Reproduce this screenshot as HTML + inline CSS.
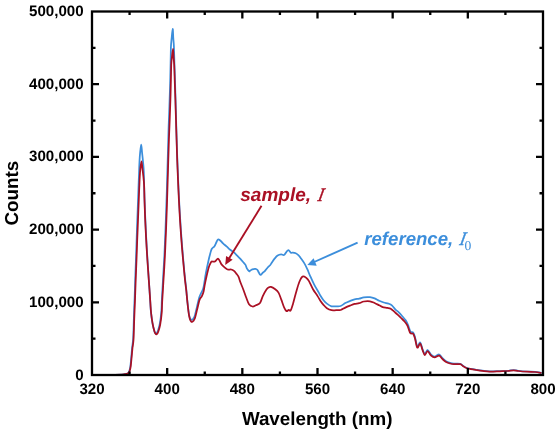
<!DOCTYPE html>
<html><head><meta charset="utf-8"><style>
html,body{margin:0;padding:0;background:#fff;}
svg{display:block;will-change:transform;}
text{font-family:"Liberation Sans",sans-serif;font-weight:bold;text-rendering:geometricPrecision;}
</style></head><body>
<svg width="560" height="434" viewBox="0 0 560 434">
<path d="M101.5 374.9 C102.92 374.88 106.58 374.87 110.0 374.8 C113.42 374.73 119.42 374.62 122.0 374.5 C124.58 374.38 124.57 374.27 125.5 374.1 C126.43 373.93 127.08 373.77 127.6 373.5 C128.12 373.23 128.28 372.98 128.6 372.5 C128.92 371.99 129.20 371.60 129.5 370.5 C129.80 369.47 130.10 368.36 130.4 366.1 C130.70 363.84 131.02 360.01 131.3 357.0 C131.58 353.91 131.79 350.91 132.1 347.8 C132.41 344.71 132.86 343.49 133.2 338.4 C133.46 333.24 133.66 324.21 133.9 317.1 C134.16 309.93 134.41 302.69 134.7 295.5 C134.91 288.36 135.17 281.25 135.4 274.1 C135.67 266.95 135.93 259.78 136.2 252.6 C136.43 245.42 136.69 238.23 136.9 231.0 C137.19 223.81 137.45 216.58 137.7 209.3 C137.97 202.09 138.25 193.93 138.5 187.6 C138.70 181.21 138.89 175.56 139.1 171.2 C139.23 166.80 139.33 164.32 139.5 161.3 C139.67 158.21 139.82 155.64 140.1 152.9 C140.38 150.06 140.87 144.53 141.2 144.5 C141.53 144.52 141.80 149.99 142.1 152.8 C142.40 155.65 142.72 158.36 143.0 161.5 C143.28 164.64 143.60 167.26 143.8 171.7 C144.00 176.09 144.01 181.62 144.2 188.0 C144.39 194.31 144.65 202.47 144.9 209.7 C145.21 216.98 145.53 224.25 145.9 231.5 C146.25 238.74 146.65 246.00 147.1 253.2 C147.53 260.45 148.03 267.41 148.5 274.9 C149.00 282.32 149.62 292.05 150.0 297.9 C150.38 303.85 150.39 306.13 150.8 310.3 C151.21 314.43 151.88 319.49 152.4 322.9 C153.02 326.21 153.76 328.76 154.2 330.4 C154.64 332.07 154.78 332.21 155.1 332.8 C155.42 333.33 155.78 333.77 156.1 333.8 C156.42 333.78 156.68 333.37 157.0 332.8 C157.32 332.28 157.51 332.14 158.0 330.5 C158.49 328.90 159.38 326.38 159.9 323.1 C160.52 319.82 161.07 314.87 161.4 310.8 C161.72 306.77 161.60 304.57 161.9 298.8 C162.20 292.99 162.81 283.39 163.2 276.1 C163.63 268.80 164.04 262.03 164.4 255.0 C164.74 247.95 165.05 240.90 165.3 233.9 C165.63 226.80 165.89 219.74 166.1 212.7 C166.37 205.62 166.59 198.56 166.8 191.5 C167.01 184.42 167.21 177.35 167.4 170.3 C167.61 163.19 167.80 156.10 168.0 149.0 C168.22 141.90 168.42 134.79 168.6 127.7 C168.88 120.53 169.13 113.38 169.4 106.2 C169.61 99.07 169.89 91.88 170.1 84.7 C170.31 77.57 170.46 69.56 170.6 63.3 C170.74 57.06 170.78 51.34 170.9 47.2 C171.12 43.12 171.31 41.71 171.6 38.7 C171.89 35.60 172.42 28.99 172.7 28.9 C172.98 28.81 173.10 35.17 173.3 38.1 C173.50 41.02 173.71 42.37 173.9 46.4 C174.09 50.49 174.24 56.24 174.4 62.5 C174.62 68.70 174.85 76.71 175.1 83.8 C175.27 90.93 175.46 98.03 175.7 105.1 C175.86 112.24 176.05 119.33 176.3 126.4 C176.47 133.53 176.69 140.62 176.9 147.7 C177.17 154.81 177.42 161.91 177.7 169.0 C177.98 176.09 178.28 183.18 178.6 190.3 C178.96 197.37 179.32 204.46 179.7 211.5 C180.14 218.63 180.59 225.72 181.1 232.8 C181.59 239.89 182.14 246.97 182.8 254.0 C183.36 261.12 184.19 269.68 184.7 275.3 C185.29 280.84 185.65 283.45 186.1 287.5 C186.47 291.60 186.78 295.64 187.2 299.7 C187.62 303.80 188.18 309.08 188.6 312.0 C189.02 314.92 189.35 316.02 189.7 317.2 C190.05 318.42 190.35 318.74 190.7 319.2 C191.05 319.64 191.42 319.94 191.8 319.9 C192.18 319.89 192.52 319.70 193.0 319.1 C193.48 318.40 194.03 318.10 194.7 316.0 C195.37 313.96 196.23 309.77 197.0 306.7 C197.77 303.53 198.48 299.84 199.3 297.3 C200.12 294.79 201.18 293.24 201.9 291.5 C202.62 289.76 202.93 289.98 203.6 286.9 C204.27 283.82 205.03 277.62 205.9 273.0 C206.77 268.38 208.08 262.42 208.8 259.2 C209.52 255.98 209.72 255.40 210.2 253.7 C210.68 252.00 210.98 250.25 211.7 249.0 C212.42 247.75 213.73 247.28 214.5 246.2 C215.27 245.12 215.72 243.62 216.3 242.5 C216.88 241.38 217.35 239.83 218.0 239.5 C218.65 239.17 219.37 239.85 220.2 240.5 C221.03 241.15 221.95 242.43 223.0 243.4 C224.05 244.37 225.30 245.25 226.5 246.3 C227.70 247.35 229.00 248.72 230.2 249.7 C231.40 250.68 232.53 251.22 233.7 252.2 C234.87 253.18 236.08 254.48 237.2 255.6 C238.32 256.72 239.35 257.75 240.4 258.9 C241.45 260.05 242.65 261.50 243.5 262.5 C244.35 263.50 244.92 263.88 245.5 264.9 C246.08 265.92 246.38 267.55 247.0 268.6 C247.62 269.65 248.70 270.83 249.2 271.2 C249.70 271.57 249.48 271.10 250.0 270.8 C250.52 270.50 251.43 269.73 252.3 269.4 C253.17 269.07 254.37 268.73 255.2 268.8 C256.03 268.87 256.45 268.80 257.3 269.8 C258.15 270.80 259.40 274.30 260.3 274.8 C261.20 275.30 261.95 273.40 262.7 272.8 C263.45 272.20 263.97 272.08 264.8 271.2 C265.63 270.32 266.78 268.53 267.7 267.5 C268.62 266.47 269.60 265.83 270.3 265.0 C271.00 264.17 271.15 263.60 271.9 262.5 C272.65 261.40 273.85 259.55 274.8 258.4 C275.75 257.25 276.55 256.27 277.6 255.6 C278.65 254.93 280.03 254.50 281.1 254.4 C282.17 254.30 283.13 255.38 284.0 255.0 C284.87 254.62 285.57 252.92 286.3 252.1 C287.03 251.28 287.63 250.00 288.4 250.1 C289.17 250.20 290.20 252.28 290.9 252.7 C291.60 253.12 291.80 252.50 292.6 252.6 C293.40 252.70 294.70 252.85 295.7 253.3 C296.70 253.75 297.80 254.55 298.6 255.3 C299.40 256.05 299.53 256.45 300.5 257.8 C301.47 259.15 303.27 261.50 304.4 263.4 C305.53 265.30 306.33 267.08 307.3 269.2 C308.27 271.32 309.05 273.53 310.2 276.1 C311.35 278.67 312.77 281.85 314.2 284.6 C315.63 287.35 317.83 290.87 318.8 292.6 C319.77 294.33 319.22 293.73 320.0 295.0 C320.78 296.27 322.35 298.77 323.5 300.2 C324.65 301.63 325.57 302.58 326.9 303.6 C328.23 304.62 329.97 305.85 331.5 306.3 C333.03 306.75 334.57 306.35 336.1 306.3 C337.63 306.25 339.17 306.53 340.7 306.0 C342.23 305.47 343.75 303.93 345.3 303.1 C346.85 302.27 348.45 301.63 350.0 301.0 C351.55 300.37 353.07 299.68 354.6 299.3 C356.13 298.92 357.67 299.03 359.2 298.7 C360.73 298.37 362.00 297.55 363.8 297.3 C365.60 297.05 368.20 297.02 370.0 297.2 C371.80 297.38 373.07 297.82 374.6 298.4 C376.13 298.98 377.67 300.02 379.2 300.7 C380.73 301.38 382.27 302.02 383.8 302.5 C385.33 302.98 387.05 303.13 388.4 303.6 C389.75 304.07 390.75 304.33 391.9 305.3 C393.05 306.27 394.15 308.23 395.3 309.4 C396.45 310.57 397.63 311.15 398.8 312.3 C399.97 313.45 401.15 314.97 402.3 316.3 C403.45 317.63 404.75 318.87 405.7 320.3 C406.65 321.73 407.22 323.03 408.0 324.9 C408.78 326.77 409.53 330.23 410.4 331.5 C411.27 332.77 412.43 331.58 413.2 332.5 C413.97 333.42 414.32 334.67 415.0 337.0 C415.68 339.33 416.43 345.58 417.3 346.5 C418.17 347.42 419.33 342.08 420.2 342.5 C421.07 342.92 421.73 347.08 422.5 349.0 C423.27 350.92 423.95 353.83 424.8 354.0 C425.65 354.17 426.55 349.88 427.6 350.0 C428.65 350.12 429.93 353.62 431.1 354.7 C432.27 355.78 433.25 356.53 434.6 356.5 C435.95 356.47 437.87 354.22 439.2 354.5 C440.53 354.78 441.45 357.08 442.6 358.2 C443.75 359.32 444.87 360.43 446.1 361.2 C447.33 361.97 448.70 362.40 450.0 362.8 C451.30 363.20 452.20 363.46 453.9 363.6 C455.60 363.80 458.70 363.47 460.2 363.8 C461.70 364.17 461.87 365.07 462.9 365.7 C463.93 366.39 465.07 367.27 466.4 367.8 C467.73 368.33 469.25 368.57 470.9 368.9 C472.55 369.23 474.37 369.50 476.3 369.8 C478.23 370.10 480.28 370.43 482.5 370.7 C484.72 370.97 486.72 371.33 489.6 371.4 C492.48 371.47 496.78 371.20 499.8 371.1 C502.82 371.00 505.40 370.97 507.7 370.8 C510.00 370.63 511.80 370.10 513.6 370.1 C515.40 370.10 516.22 370.57 518.5 370.8 C520.78 371.03 524.52 371.33 527.3 371.5 C530.08 371.67 532.82 371.58 535.2 371.8 C537.58 372.02 540.53 372.63 541.6 372.8" stroke="#3C8EDB" stroke-width="1.75" fill="none" stroke-linejoin="round"/>
<path d="M101.5 374.9 C102.92 374.88 106.58 374.87 110.0 374.8 C113.42 374.73 119.42 374.62 122.0 374.5 C124.58 374.38 124.57 374.27 125.5 374.1 C126.43 373.93 127.03 373.77 127.6 373.5 C128.17 373.23 128.53 372.98 128.9 372.5 C129.27 372.02 129.50 371.63 129.8 370.6 C130.10 369.57 130.40 368.48 130.7 366.3 C131.00 364.12 131.32 360.42 131.6 357.5 C131.88 354.58 132.09 351.72 132.4 348.8 C132.71 345.88 133.16 344.80 133.5 340.0 C133.76 335.20 133.96 326.67 134.2 320.0 C134.46 313.33 134.71 306.67 135.0 300.0 C135.21 293.33 135.47 286.67 135.7 280.0 C135.97 273.33 136.23 266.67 136.5 260.0 C136.73 253.33 136.99 246.67 137.2 240.0 C137.50 233.33 137.75 226.67 138.0 220.0 C138.27 213.33 138.56 205.83 138.8 200.0 C139.00 194.17 139.19 189.00 139.4 185.0 C139.53 181.00 139.63 178.75 139.8 176.0 C139.97 173.25 140.12 170.93 140.4 168.5 C140.68 166.07 141.17 161.40 141.5 161.4 C141.83 161.40 142.10 166.07 142.4 168.5 C142.70 170.93 143.02 173.25 143.3 176.0 C143.58 178.75 143.90 181.00 144.1 185.0 C144.30 189.00 144.31 194.17 144.5 200.0 C144.69 205.83 144.95 213.33 145.2 220.0 C145.51 226.67 145.83 233.33 146.2 240.0 C146.55 246.67 146.95 253.33 147.4 260.0 C147.83 266.67 148.33 273.08 148.8 280.0 C149.31 286.92 149.92 296.00 150.3 301.5 C150.68 307.00 150.69 309.15 151.1 313.0 C151.51 316.85 152.18 321.52 152.8 324.6 C153.32 327.68 154.06 330.00 154.5 331.5 C154.94 333.00 155.08 333.12 155.4 333.6 C155.72 334.08 156.08 334.40 156.4 334.4 C156.72 334.40 156.98 334.08 157.3 333.6 C157.62 333.12 157.81 333.00 158.3 331.5 C158.79 330.00 159.68 327.68 160.2 324.6 C160.82 321.52 161.38 316.85 161.7 313.0 C162.02 309.15 161.90 307.00 162.2 301.5 C162.50 296.00 163.11 286.92 163.5 280.0 C163.94 273.08 164.34 266.67 164.7 260.0 C165.04 253.33 165.35 246.67 165.6 240.0 C165.93 233.33 166.19 226.67 166.4 220.0 C166.67 213.33 166.89 206.67 167.1 200.0 C167.31 193.33 167.51 186.67 167.7 180.0 C167.91 173.33 168.10 166.67 168.3 160.0 C168.52 153.33 168.72 146.67 168.9 140.0 C169.18 133.33 169.43 126.67 169.7 120.0 C169.91 113.33 170.19 106.67 170.4 100.0 C170.61 93.33 170.76 85.83 170.9 80.0 C171.04 74.17 171.08 68.78 171.2 65.0 C171.42 61.22 171.61 60.00 171.9 57.3 C172.19 54.60 172.72 48.80 173.0 48.8 C173.28 48.80 173.40 54.60 173.6 57.3 C173.80 60.00 174.01 61.22 174.2 65.0 C174.39 68.78 174.54 74.17 174.7 80.0 C174.92 85.83 175.16 93.33 175.4 100.0 C175.57 106.67 175.76 113.33 176.0 120.0 C176.16 126.67 176.35 133.33 176.6 140.0 C176.77 146.67 176.99 153.33 177.2 160.0 C177.47 166.67 177.72 173.33 178.0 180.0 C178.28 186.67 178.58 193.33 178.9 200.0 C179.26 206.67 179.62 213.33 180.0 220.0 C180.44 226.67 180.89 233.33 181.4 240.0 C181.89 246.67 182.44 253.33 183.1 260.0 C183.66 266.67 184.49 274.75 185.0 280.0 C185.59 285.25 185.95 287.67 186.4 291.5 C186.77 295.33 187.08 299.15 187.5 303.0 C187.92 306.85 188.48 311.85 188.9 314.6 C189.32 317.35 189.65 318.38 190.0 319.5 C190.35 320.62 190.65 320.90 191.0 321.3 C191.35 321.70 191.72 321.95 192.1 321.9 C192.48 321.85 192.82 321.65 193.3 321.0 C193.78 320.35 194.33 320.03 195.0 318.0 C195.67 315.97 196.53 311.87 197.3 308.8 C198.07 305.73 198.83 301.72 199.6 299.6 C200.37 297.48 201.23 297.45 201.9 296.1 C202.57 294.75 203.12 293.42 203.6 291.5 C204.08 289.58 204.32 287.10 204.8 284.6 C205.28 282.10 205.83 279.38 206.5 276.5 C207.17 273.62 208.17 269.47 208.8 267.3 C209.43 265.13 209.82 264.47 210.3 263.5 C210.78 262.53 211.22 261.80 211.7 261.5 C212.18 261.20 212.60 261.75 213.2 261.7 C213.80 261.65 214.50 261.72 215.3 261.2 C216.10 260.68 217.20 258.52 218.0 258.6 C218.80 258.68 219.52 260.73 220.1 261.7 C220.68 262.67 220.80 263.48 221.5 264.4 C222.20 265.32 223.30 266.35 224.3 267.2 C225.30 268.05 226.35 269.12 227.5 269.5 C228.65 269.88 230.12 269.27 231.2 269.5 C232.28 269.73 233.15 270.22 234.0 270.9 C234.85 271.58 235.53 272.60 236.3 273.6 C237.07 274.60 237.92 275.45 238.6 276.9 C239.28 278.35 239.63 280.25 240.4 282.3 C241.17 284.35 242.25 286.70 243.2 289.2 C244.15 291.70 245.13 294.80 246.1 297.3 C247.07 299.80 247.93 302.67 249.0 304.2 C250.07 305.73 251.35 306.32 252.5 306.5 C253.65 306.68 254.65 305.88 255.9 305.3 C257.15 304.72 258.85 304.53 260.0 303.0 C261.15 301.47 261.75 298.30 262.8 296.1 C263.85 293.90 265.35 291.23 266.3 289.8 C267.25 288.37 267.72 287.98 268.5 287.5 C269.28 287.02 269.93 286.65 271.0 286.9 C272.07 287.15 273.65 288.05 274.9 289.0 C276.15 289.95 277.43 290.83 278.5 292.6 C279.57 294.37 280.35 297.10 281.3 299.6 C282.25 302.10 283.33 305.68 284.2 307.6 C285.07 309.52 285.73 310.72 286.5 311.1 C287.27 311.48 288.12 310.00 288.8 309.9 C289.48 309.80 289.92 311.45 290.6 310.5 C291.28 309.55 292.05 306.98 292.9 304.2 C293.75 301.42 294.65 297.45 295.7 293.8 C296.75 290.15 298.05 285.18 299.2 282.3 C300.35 279.42 301.45 277.27 302.6 276.5 C303.75 275.73 305.03 276.93 306.1 277.7 C307.17 278.47 307.85 279.18 309.0 281.1 C310.15 283.02 311.57 286.70 313.0 289.2 C314.43 291.70 316.35 294.13 317.6 296.1 C318.85 298.07 319.52 299.55 320.5 301.0 C321.48 302.45 322.43 303.60 323.5 304.8 C324.57 306.00 325.57 307.30 326.9 308.2 C328.23 309.10 329.97 309.87 331.5 310.2 C333.03 310.53 334.57 310.23 336.1 310.2 C337.63 310.17 339.17 310.43 340.7 310.0 C342.23 309.57 343.75 308.33 345.3 307.6 C346.85 306.87 348.45 306.22 350.0 305.6 C351.55 304.98 353.07 304.30 354.6 303.9 C356.13 303.50 357.67 303.60 359.2 303.2 C360.73 302.80 362.00 301.82 363.8 301.5 C365.60 301.18 368.20 301.05 370.0 301.3 C371.80 301.55 373.07 302.33 374.6 303.0 C376.13 303.67 377.85 304.62 379.2 305.3 C380.55 305.98 381.35 306.67 382.7 307.1 C384.05 307.53 385.97 307.62 387.3 307.9 C388.63 308.18 389.55 308.17 390.7 308.8 C391.85 309.43 393.05 310.73 394.2 311.7 C395.35 312.67 396.45 313.55 397.6 314.6 C398.75 315.65 399.93 316.85 401.1 318.0 C402.27 319.15 403.55 320.25 404.6 321.5 C405.65 322.75 406.75 324.33 407.4 325.5 C408.05 326.67 408.00 327.22 408.5 328.5 C409.00 329.78 409.62 332.32 410.4 333.2 C411.18 334.08 412.43 332.93 413.2 333.8 C413.97 334.67 414.32 336.10 415.0 338.4 C415.68 340.70 416.43 346.73 417.3 347.6 C418.17 348.47 419.33 343.20 420.2 343.6 C421.07 344.00 421.73 348.08 422.5 350.0 C423.27 351.92 423.95 354.92 424.8 355.1 C425.65 355.28 426.55 351.00 427.6 351.1 C428.65 351.20 429.93 354.65 431.1 355.7 C432.27 356.75 433.25 357.40 434.6 357.4 C435.95 357.40 437.87 355.40 439.2 355.7 C440.53 356.00 441.45 358.15 442.6 359.2 C443.75 360.25 444.87 361.28 446.1 362.0 C447.33 362.72 448.70 363.13 450.0 363.5 C451.30 363.87 452.20 364.08 453.9 364.2 C455.60 364.32 458.70 363.90 460.2 364.2 C461.70 364.50 461.87 365.37 462.9 366.0 C463.93 366.63 465.07 367.48 466.4 368.0 C467.73 368.52 469.25 368.77 470.9 369.1 C472.55 369.43 474.37 369.70 476.3 370.0 C478.23 370.30 480.28 370.63 482.5 370.9 C484.72 371.17 486.72 371.53 489.6 371.6 C492.48 371.67 496.78 371.40 499.8 371.3 C502.82 371.20 505.40 371.17 507.7 371.0 C510.00 370.83 511.80 370.30 513.6 370.3 C515.40 370.30 516.22 370.77 518.5 371.0 C520.78 371.23 524.52 371.53 527.3 371.7 C530.08 371.87 532.82 371.78 535.2 372.0 C537.58 372.22 540.53 372.83 541.6 373.0" stroke="#AA1024" stroke-width="1.75" fill="none" stroke-linejoin="round"/>
<path d="M357.6 242.7 L313 262.5" stroke="#3C8EDB" stroke-width="1.9" fill="none"/>
<path d="M307.3 265.1 L313.6 258.2 L316.7 265.7 Z" fill="#3C8EDB"/>
<path d="M261.5 205.8 L229 258.5" stroke="#AA1024" stroke-width="1.9" fill="none"/>
<path d="M225.2 264.9 L226.1 256.1 L232.6 259.8 Z" fill="#AA1024"/>

<path d="M129.58 375.0 V371.5 M129.58 11.5 V15.0 M167.17 375.0 V368.0 M167.17 11.5 V18.5 M204.75 375.0 V371.5 M204.75 11.5 V15.0 M242.33 375.0 V368.0 M242.33 11.5 V18.5 M279.92 375.0 V371.5 M279.92 11.5 V15.0 M317.50 375.0 V368.0 M317.50 11.5 V18.5 M355.08 375.0 V371.5 M355.08 11.5 V15.0 M392.67 375.0 V368.0 M392.67 11.5 V18.5 M430.25 375.0 V371.5 M430.25 11.5 V15.0 M467.83 375.0 V368.0 M467.83 11.5 V18.5 M505.42 375.0 V371.5 M505.42 11.5 V15.0 M92.0 338.65 H95.5 M543.0 338.65 H539.5 M92.0 302.30 H99.0 M543.0 302.30 H536.0 M92.0 265.95 H95.5 M543.0 265.95 H539.5 M92.0 229.60 H99.0 M543.0 229.60 H536.0 M92.0 193.25 H95.5 M543.0 193.25 H539.5 M92.0 156.90 H99.0 M543.0 156.90 H536.0 M92.0 120.55 H95.5 M543.0 120.55 H539.5 M92.0 84.20 H99.0 M543.0 84.20 H536.0 M92.0 47.85 H95.5 M543.0 47.85 H539.5" stroke="#000" stroke-width="2.3" fill="none"/>
<rect x="92.0" y="11.5" width="451.0" height="363.5" stroke="#000" stroke-width="2.3" fill="none"/>
<g font-size="15.1" fill="#000"><text transform="translate(92.0 394)" text-anchor="middle">320</text><text transform="translate(167.2 394)" text-anchor="middle">400</text><text transform="translate(242.3 394)" text-anchor="middle">480</text><text transform="translate(317.5 394)" text-anchor="middle">560</text><text transform="translate(392.7 394)" text-anchor="middle">640</text><text transform="translate(467.8 394)" text-anchor="middle">720</text><text transform="translate(543.0 394)" text-anchor="middle">800</text><text transform="translate(83.6 379.5)" text-anchor="end">0</text><text transform="translate(83.6 306.8)" text-anchor="end">100,000</text><text transform="translate(83.6 234.1)" text-anchor="end">200,000</text><text transform="translate(83.6 161.4)" text-anchor="end">300,000</text><text transform="translate(83.6 88.7)" text-anchor="end">400,000</text><text transform="translate(83.6 16.0)" text-anchor="end">500,000</text></g>
<text x="317.2" y="425.2" text-anchor="middle" font-size="18.8">Wavelength (nm)</text>
<text transform="translate(18.2 193.2) rotate(-90)" text-anchor="middle" font-size="18.8">Counts</text>
<g fill="#AA1024" stroke="#AA1024" stroke-width="0" font-style="italic" font-size="19"><text x="240.3" y="201">sample,</text><text x="0" y="0" style="font-family:'Liberation Serif';font-weight:normal" stroke-width="0.45" transform="translate(317.2 200.9) skewX(-12) scale(0.85 1)">I</text></g>
<g fill="#3C8EDB" stroke="#3C8EDB" stroke-width="0" font-style="italic" font-size="19"><text x="364.3" y="244.6" font-size="18.6">reference,</text><text x="0" y="0" style="font-family:'Liberation Serif';font-weight:normal" stroke-width="0.45" transform="translate(459.1 244.6) skewX(-12) scale(0.85 1)">I</text><text x="464.6" y="249.8" style="font-family:'Liberation Serif';font-weight:normal;font-style:normal" font-size="13.6">0</text></g>
</svg>
</body></html>
